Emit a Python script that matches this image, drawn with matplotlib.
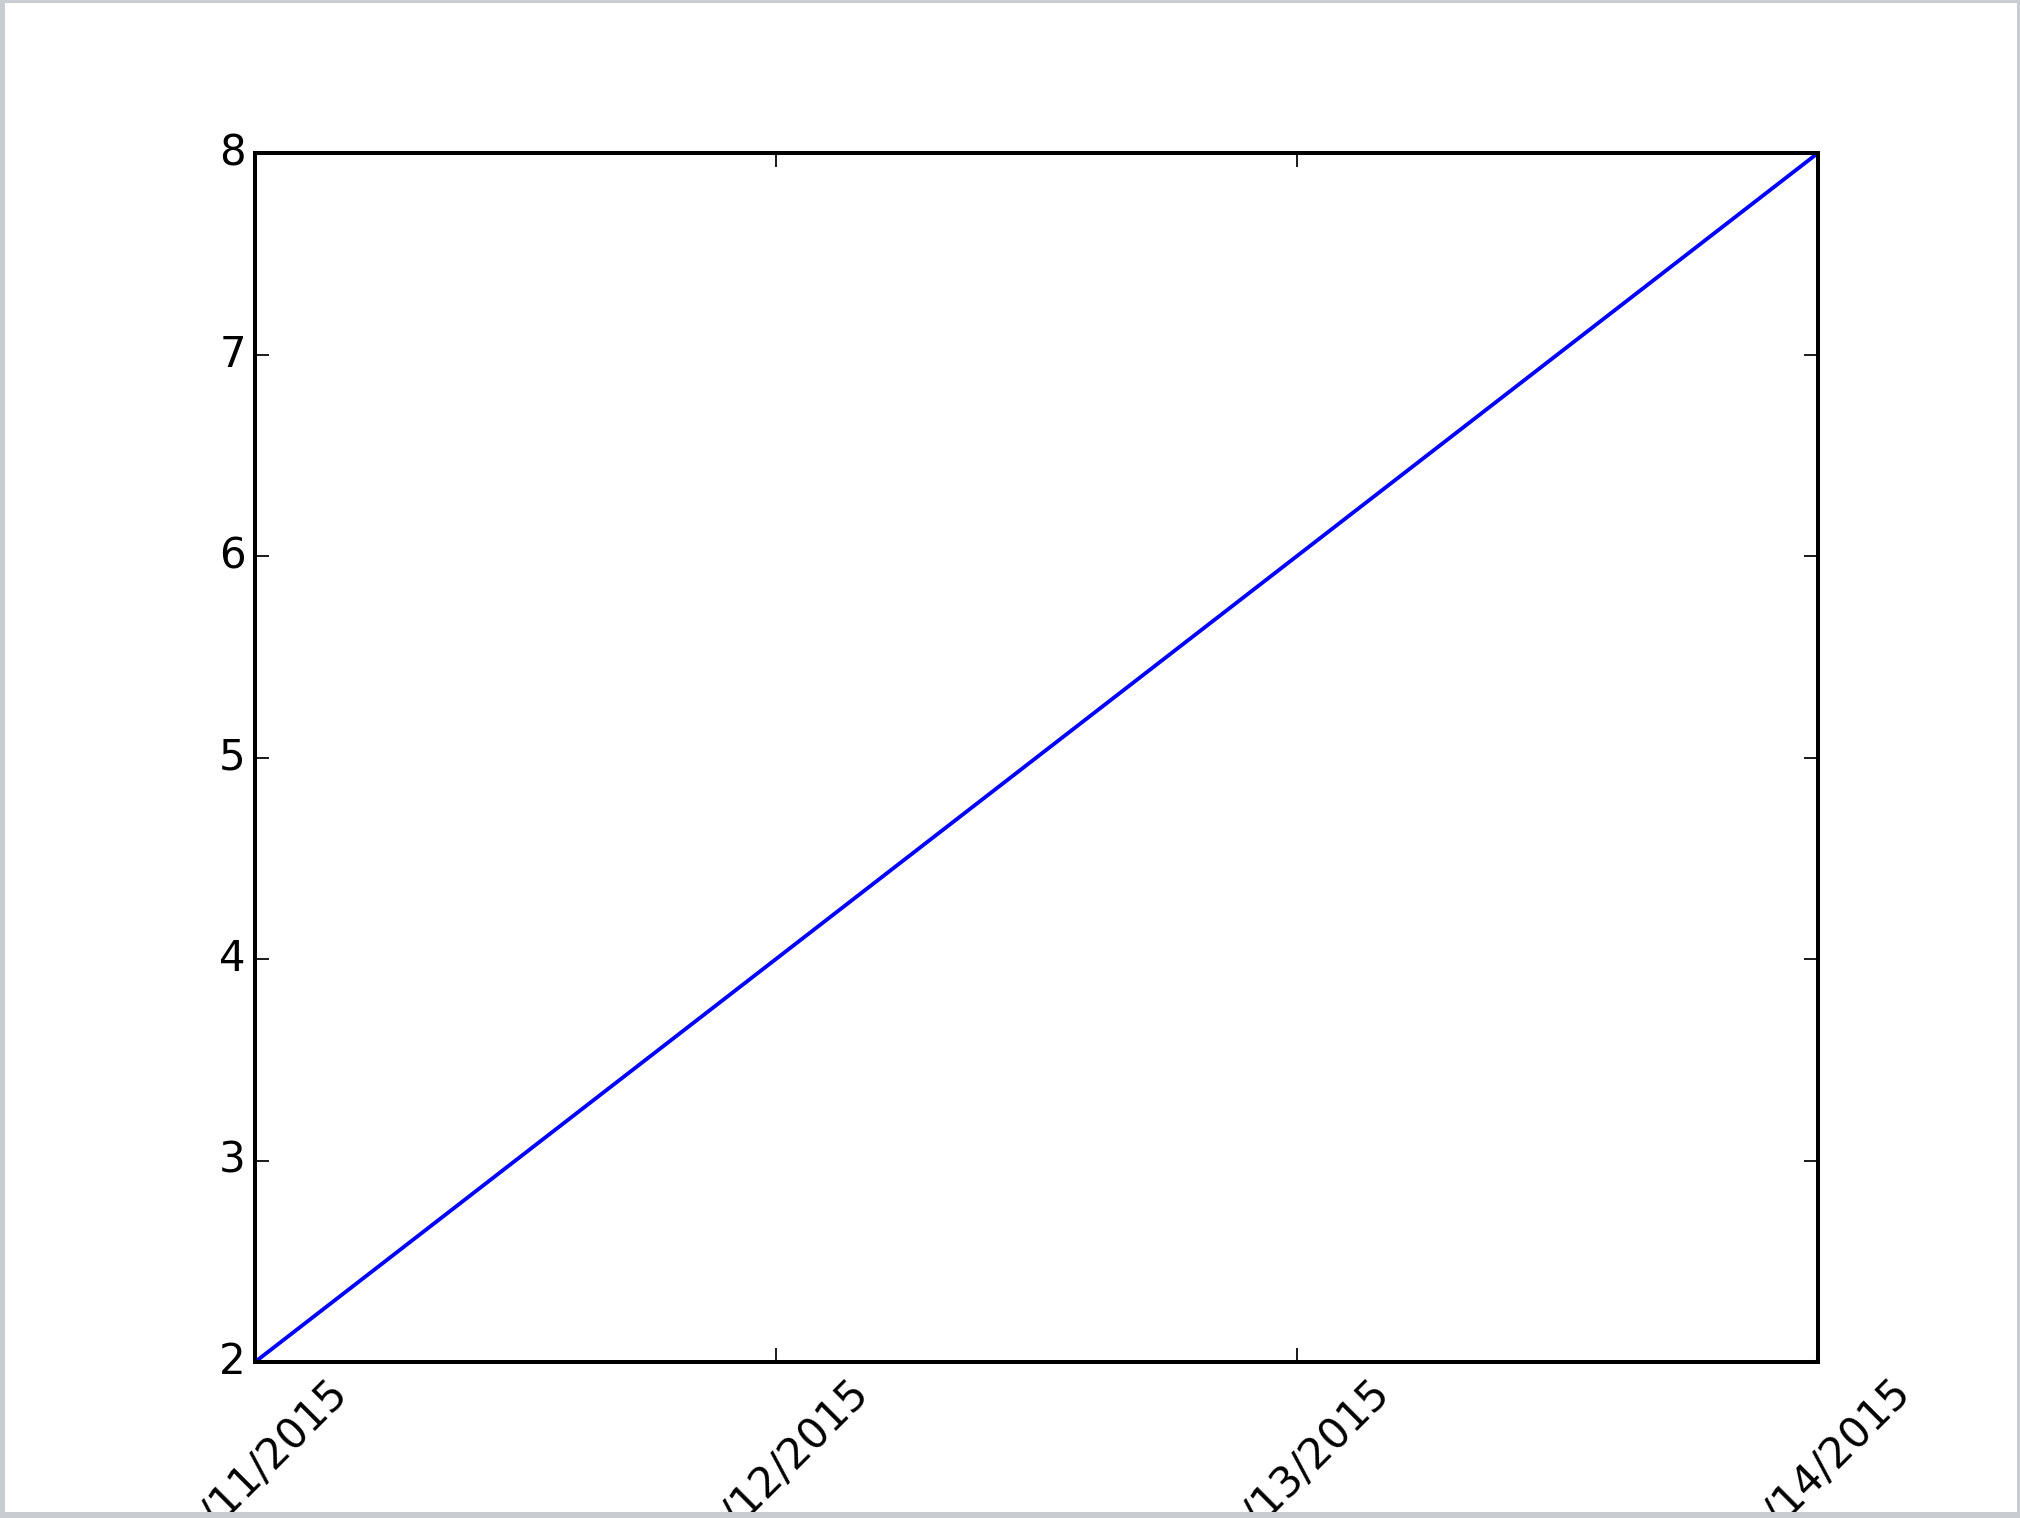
import matplotlib
matplotlib.use("Agg")
import matplotlib.pyplot as plt
from matplotlib.patches import Rectangle
import pandas as pd

# data (month is cut off in the reference)
date_labels = ["01/11/2015", "01/12/2015", "01/13/2015", "01/14/2015"]
values = [2, 4, 6, 8]

plt.style.use("classic")
plt.rcParams["font.size"] = 12

dpi = 251.5
fig = plt.figure(figsize=(2020 / dpi, 1518 / dpi), dpi=dpi, facecolor="white")
ax = fig.add_axes([255 / 2020, 156 / 1518, 1563 / 2020, 1209 / 1518])

dates = pd.to_datetime(date_labels, format="%m/%d/%Y")
ax.plot(dates, values, "b-", lw=1.1)
ax.set_xlim(dates[0], dates[-1])
ax.set_ylim(2, 8)
ax.set_xticks(dates)
ax.set_xticklabels(date_labels, rotation=45)
ax.tick_params(axis="x", pad=2.5)
ax.tick_params(axis="y", pad=2.6)
for s in ax.spines.values():
    s.set_linewidth(1.15)

# grey window border of the screenshot, drawn over the labels
grey = "#c9cdd1"
W, H = 2020.0, 1518.0
for x0, y0, w, h in [(0, 0, 5, H), (2017, 0, 3, H), (0, 0, W, 6), (0, H - 3, W, 3)]:
    fig.add_artist(Rectangle((x0 / W, y0 / H), w / W, h / H, transform=fig.transFigure,
                             facecolor=grey, edgecolor="none", zorder=10))

fig.savefig("out.png", dpi=dpi, facecolor="white")
